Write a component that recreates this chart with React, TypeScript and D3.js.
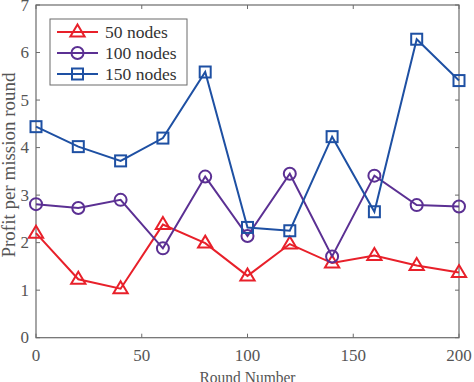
import React from "react";
import * as d3 from "d3";

const rounds = [0, 20, 40, 60, 80, 100, 120, 140, 160, 180, 200];
const nodes50 = [2.2, 1.23, 1.03, 2.38, 1.99, 1.3, 1.97, 1.57, 1.73, 1.52, 1.37];
const nodes100 = [2.81, 2.73, 2.9, 1.88, 3.39, 2.14, 3.45, 1.71, 3.41, 2.79, 2.76];
const nodes150 = [4.44, 4.02, 3.72, 4.2, 5.59, 2.32, 2.25, 4.23, 2.65, 6.28, 5.41];
const seriesNames = ["50 nodes", "100 nodes", "150 nodes"];
const xTicks = [0, 50, 100, 150, 200];
const yTicks = [0, 1, 2, 3, 4, 5, 6, 7];

const colors = ["#e8202a", "#5b3093", "#1e50a3"];
const markers = ["triangle", "circle", "square"];

const W = 474, H = 382;
const L = 36, R = 459, T = 5, B = 337.7;

function Marker({ type, x, y, color }: { type: string; x: number; y: number; color: string }) {
  if (type === "circle") return <circle cx={x} cy={y} r={6} fill="none" stroke={color} strokeWidth={2} />;
  if (type === "square") return <rect x={x - 5.5} y={y - 5.5} width={11} height={11} fill="none" stroke={color} strokeWidth={2} />;
  const s = 7.5;
  return <path d={`M${x},${y - s}L${x + s * 0.95},${y + s * 0.6}L${x - s * 0.95},${y + s * 0.6}Z`} fill="none" stroke={color} strokeWidth={2} />;
}

export default function App() {
  const x = d3.scaleLinear().domain([0, 200]).range([L, R]);
  const y = d3.scaleLinear().domain([0, 7]).range([B, T]);
  const all = [nodes50, nodes100, nodes150];
  const line = d3.line<number>().x((_, i) => x(rounds[i])).y((d) => y(d));
  const font = "'Liberation Serif', 'Times New Roman', serif";
  const axisCol = "#6b6b6b";
  const textCol = "#555";
  return (
    <svg width={W} height={H} style={{ position: "absolute", left: 0, top: 0, background: "#fff" }} fontFamily={font}>
      <rect x={L} y={T} width={R - L} height={B - T} fill="none" stroke={axisCol} strokeWidth={1.2} />
      {xTicks.map((t) => (
        <g key={"x" + t}>
          <line x1={x(t)} x2={x(t)} y1={B} y2={B - 4} stroke={axisCol} />
          <line x1={x(t)} x2={x(t)} y1={T} y2={T + 4} stroke={axisCol} />
          <text x={x(t)} y={B + 23} textAnchor="middle" fontSize={17} fill={textCol}>{t}</text>
        </g>
      ))}
      {yTicks.map((t) => (
        <g key={"y" + t}>
          <line x1={L} x2={L + 4} y1={y(t)} y2={y(t)} stroke={axisCol} />
          <line x1={R} x2={R - 4} y1={y(t)} y2={y(t)} stroke={axisCol} />
          <text x={L - 7} y={y(t) + 5.5} textAnchor="end" fontSize={17} fill={textCol}>{t}</text>
        </g>
      ))}
      <text x={(L + R) / 2} y={B + 45} textAnchor="middle" fontSize={17} fill={textCol} textLength={96} lengthAdjust="spacingAndGlyphs">Round Number</text>
      <text transform={`translate(15,165) rotate(-90)`} textAnchor="middle" fontSize={18} fill={textCol} textLength={185} lengthAdjust="spacingAndGlyphs">Profit per mission round</text>
      {all.map((s, k) => (
        <g key={"s" + k}>
          <path d={line(s) || ""} fill="none" stroke={colors[k]} strokeWidth={2} />
          {s.map((v, i) => <Marker key={i} type={markers[k]} x={x(rounds[i])} y={y(v)} color={colors[k]} />)}
        </g>
      ))}
      <rect x={50} y={19} width={137} height={66} fill="#fff" stroke={axisCol} strokeWidth={1} />
      {seriesNames.map((n, k) => {
        const ly = 32 + k * 21;
        return (
          <g key={"l" + k}>
            <line x1={57} x2={98} y1={ly} y2={ly} stroke={colors[k]} strokeWidth={2} />
            <Marker type={markers[k]} x={77.5} y={ly} color={colors[k]} />
            <text x={105} y={ly + 5.5} fontSize={17.5} fill="#333">{n}</text>
          </g>
        );
      })}
    </svg>
  );
}
